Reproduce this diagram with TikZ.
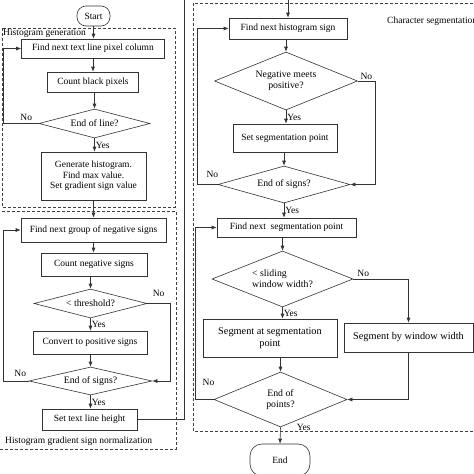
\documentclass[tikz,border=0pt]{standalone}
\usepackage{fontspec}
\setmainfont{Liberation Serif}
\usetikzlibrary{arrows.meta,shapes.geometric,positioning,calc}

\begin{document}
\begin{tikzpicture}[x=1pt, y=-1pt,
    >={Latex[length=5pt,width=4pt]},
    line/.style={draw=black!80, line width=0.6pt},
    arr/.style={line, ->},
    box/.style={draw=black!80, line width=0.6pt, rectangle, inner sep=1pt, align=center, font=\fontsize{9.5}{10.5}\selectfont},
    dec/.style={draw=black!80, line width=0.6pt, diamond, inner sep=0pt, align=center, font=\fontsize{9.8}{11}\selectfont},
    term/.style={draw=black!80, line width=0.6pt, rectangle, rounded corners=9pt, font=\fontsize{9.5}{11}\selectfont},
    grp/.style={draw=black!75, line width=0.9pt, dash pattern=on 3pt off 2pt},
    lbl/.style={font=\fontsize{9.5}{11}\selectfont, inner sep=1pt},
    yes/.style={lbl, right, midway},
    no/.style={lbl, above},
]
    \useasboundingbox (0,0) rectangle (474,474);
    \clip (0,0) rectangle (474,474);

    % Frames
    \draw[grp] (2,28) rectangle (175,207);
    \draw[grp] (-2,211) rectangle (176,449);
    \draw[grp] (193,3) rectangle (490,431);
    \node[lbl, anchor=west] at (2,33) {Histogram generation};
    \node[lbl, anchor=west] at (4,441) {Histogram gradient sign normalization};
    \node[lbl, anchor=west] at (386,21) {Character segmentation};

    % Loop lines
    \coordinate (lftX) at (3,0);
    \coordinate (thrX) at (170,0);
    \coordinate (midX) at (184,0);
    \coordinate (topY) at (0,-12);
    \coordinate (hsX) at (197,0);
    \coordinate (spX) at (195,0);
    \coordinate (rgtX) at (375,0);

    % Histogram generation
    \node[term, minimum width=33pt, minimum height=20pt] (start) at (93.5,16) {Start};
    \node[box, minimum width=143pt, minimum height=19pt] (findcol) at (93,48.5) {Find next text line pixel column};
    \node[box, minimum width=91pt, minimum height=20pt] (countpx) at (93,82) {Count black pixels};
    \node[dec, shape aspect=3.83, minimum width=111pt, minimum height=29pt] (endline) at (94.5,123.5) {End of line?};
    \node[box, minimum width=105pt, minimum height=48pt] (genhist) at (93.5,176) {Generate histogram.\\Find max value.\\Set gradient sign value};

    % Histogram gradient sign normalization
    \node[box, minimum width=145pt, minimum height=24pt] (findneg) at (93.5,230) {Find next group of negative signs};
    \node[box, minimum width=106pt, minimum height=23pt] (countneg) at (94,264.5) {Count negative signs};
    \node[dec, shape aspect=3.9, minimum width=113pt, minimum height=29pt] (thresh) at (90.5,303.5) {< threshold?};
    \node[box, minimum width=114pt, minimum height=23pt] (convert) at (90,342.5) {Convert to positive signs};
    \node[dec, shape aspect=4.4, minimum width=123pt, minimum height=28pt] (endsig) at (90.5,381) {End of signs?};
    \node[box, minimum width=95pt, minimum height=21pt] (setheight) at (89.5,419.5) {Set text line height};

    % Character segmentation
    \node[box, minimum width=118pt, minimum height=21pt] (findhs) at (288,28.5) {Find next histogram sign};
    \node[dec, shape aspect=2.47, minimum width=143pt, minimum height=58pt] (negpos) at (286,81) {Negative meets\\positive?};
    \node[box, minimum width=104pt, minimum height=28pt] (setseg) at (285,138) {Set segmentation point};
    \node[dec, shape aspect=3.57, minimum width=132pt, minimum height=37pt] (endsig2) at (284,184.5) {End of signs?};
    \node[box, minimum width=139pt, minimum height=19pt] (findsp) at (286.5,227.5) {Find next\ \ segmentation point};
    \node[dec, shape aspect=2.52, minimum width=141pt, minimum height=56pt, align=left] (slide) at (282.5,279) {< sliding\\window width?};
    \node[box, minimum width=134pt, minimum height=38pt, font=\fontsize{10.3}{12}\selectfont] (segat) at (270,338) {Segment at segmentation\\point};
    \node[box, minimum width=129pt, minimum height=29pt, font=\fontsize{10.3}{12}\selectfont] (segwin) at (408.5,337.5) {Segment by window width};
    \node[dec, shape aspect=2.42, minimum width=133pt, minimum height=55pt] (endpts) at (280.5,399.5) {End of\\points?};
    \node[term, minimum width=60pt, minimum height=32pt, rounded corners=12pt] (stop) at (280,460) {End};

    % Connectors, left
    \draw[arr] (start.south) -- (start.south |- findcol.north);
    \draw[arr] (countpx.north |- findcol.south) -- (countpx.north);
    \draw[arr] (endline.north |- countpx.south) -- (endline.north);
    \draw[arr] (endline.south) -- node[yes] {Yes} (endline.south |- genhist.north);
    \draw[arr] (endline.west) -- node[no, pos=0.35, yshift=2pt] {No} (endline.west -| lftX) |- (findcol.west);
    \draw[arr] (findneg.north |- genhist.south) -- (findneg.north);
    \draw[arr] (findneg.south) -- (findneg.south |- countneg.north);
    \draw[arr] (thresh.north |- countneg.south) -- (thresh.north);
    \draw[arr] (thresh.south) -- node[yes] {Yes} (thresh.south |- convert.north);
    \draw[arr] (thresh.east) -- node[no, pos=0.5, yshift=6pt] {No} (thresh.east -| thrX) |- (endsig.east);
    \draw[arr] (endsig.north |- convert.south) -- (endsig.north);
    \draw[arr] (endsig.west) -- node[no, pos=0.33, yshift=3.5pt] {No} (endsig.west -| lftX) |- (findneg.west);
    \draw[arr] (endsig.south) -- node[yes] {Yes} (endsig.south |- setheight.north);
    \draw[arr] (setheight.east) -- (setheight.east -| midX) -- (midX |- topY) -| (findhs.north);

    % Connectors, right
    \draw[arr] (negpos.north |- findhs.south) -- (negpos.north);
    \draw[arr] (negpos.south) -- node[yes] {Yes} (negpos.south |- setseg.north);
    \draw[arr] (negpos.east) -- node[no, pos=0.5] {No} (negpos.east -| rgtX) |- (endsig2.east);
    \draw[arr] (endsig2.north |- setseg.south) -- (endsig2.north);
    \draw[arr] (endsig2.west) -- node[no, pos=0.26, yshift=6pt] {No} (endsig2.west -| hsX) |- (findhs.west);
    \draw[arr] (endsig2.south) -- node[yes] {Yes} (endsig2.south |- findsp.north);
    \draw[arr] (slide.north |- findsp.south) -- (slide.north);
    \draw[arr] (slide.south) -- node[yes] {Yes} (slide.south |- segat.north);
    \draw[arr] (slide.east) -| node[no, pos=0.09, yshift=1.5pt] {No} (segwin.north);
    \draw[arr] (endpts.north |- segat.south) -- (endpts.north);
    \draw[arr] (segwin.south) |- (endpts.east);
    \draw[arr] (endpts.west) -- node[no, pos=0.28, yshift=13pt] {No} (endpts.west -| spX) |- (findsp.west);
    \draw[arr] (endpts.south) -- node[lbl, right, pos=0, xshift=15pt] {Yes} (stop.north);
\end{tikzpicture}
\end{document}
